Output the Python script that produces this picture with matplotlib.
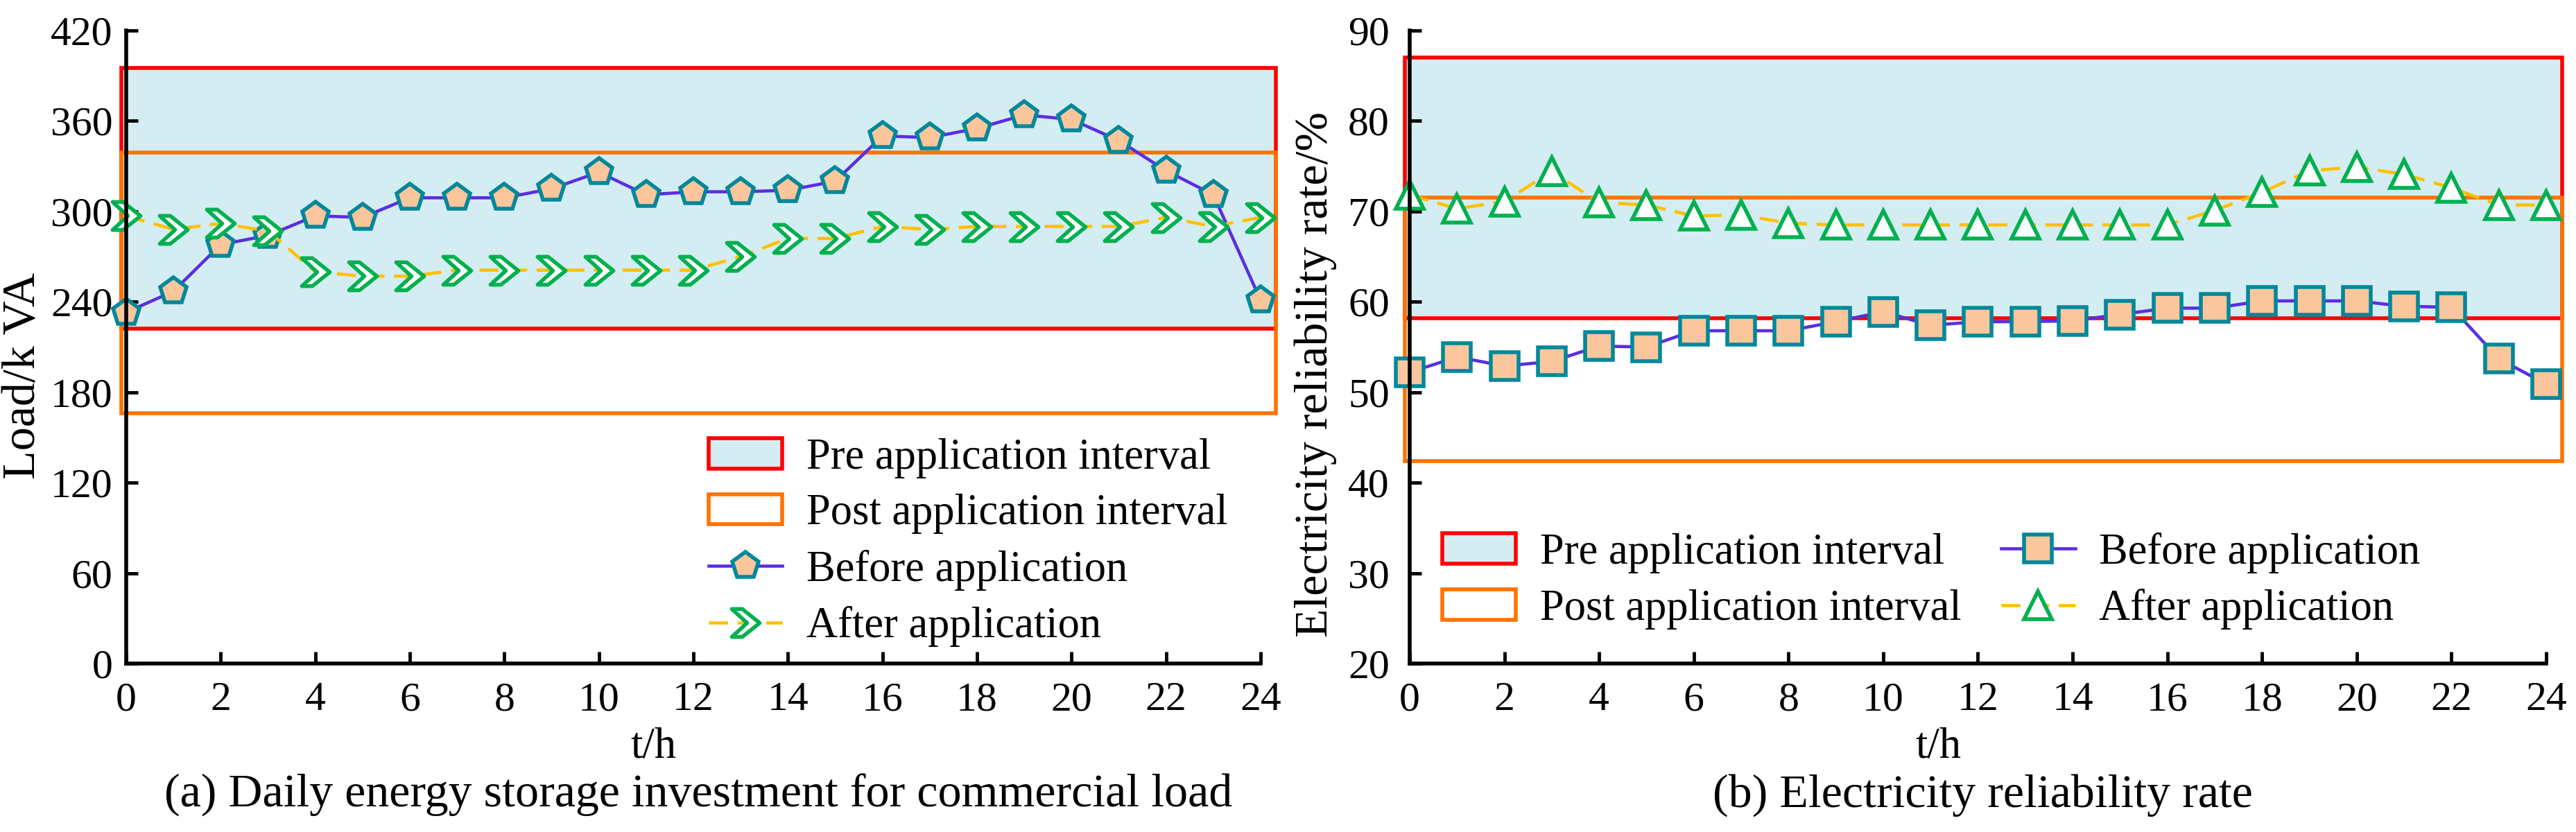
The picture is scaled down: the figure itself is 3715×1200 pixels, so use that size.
import numpy as np
import matplotlib
matplotlib.use("Agg")
import matplotlib.pyplot as plt
from matplotlib.patches import Rectangle, Patch
from matplotlib.lines import Line2D
from matplotlib.path import Path

# data
hours = list(range(25))
load_before = [233, 247, 278, 284, 297, 296, 309, 309, 309, 315, 326, 311, 313,
               313, 314, 320, 350, 349, 355, 364, 361, 347, 327, 311, 241]
load_after = [297, 288, 292, 287, 260, 257, 257, 261, 261, 261, 261, 261, 261,
              270, 282, 282, 290, 288, 290, 290, 290, 290, 296, 290, 296]
load_pre_interval = [222, 395]
load_post_interval = [166, 339]

rel_before = [52.2, 53.9, 52.9, 53.4, 55.1, 55.0, 56.8, 56.8, 56.8, 57.8, 58.9, 57.4, 57.8,
              57.8, 57.9, 58.6, 59.3, 59.3, 60.1, 60.1, 60.1, 59.5, 59.4, 53.7, 50.9]
rel_after = [71.8, 70.3, 71.1, 74.4, 71.0, 70.7, 69.5, 69.6, 68.7, 68.5, 68.5, 68.5, 68.5,
             68.5, 68.5, 68.5, 68.5, 70.1, 72.1, 74.5, 74.9, 74.1, 72.6, 70.7, 70.7]
rel_pre_interval = [58.2, 87.0]
rel_post_interval = [42.4, 71.5]

labels = ["Pre application interval", "Post application interval",
          "Before application", "After application"]

# colours
c_fill = "#D4EDF2"
c_red = "#FF0000"
c_orange = "#FF7300"
c_purple = "#5A2EE0"
c_yellow = "#FFC000"
c_peach = "#FCC69C"
c_teal = "#00889A"
c_green = "#00B050"

plt.rcParams['font.family'] = ['Liberation Serif', 'DejaVu Serif']

# chevron marker
chevron = Path([(-1, 1), (-0.25, 1), (1, 0), (-0.25, -1), (-1, -1), (0.1, 0), (-1, 1)],
               [Path.MOVETO] + [Path.LINETO] * 5 + [Path.CLOSEPOLY])

W, H = 3716, 1200
fig = plt.figure(figsize=(W / 100, H / 100), dpi=100)
ax1 = fig.add_axes([182 / W, 1 - 957 / H, 1636 / W, 913 / H])
ax2 = fig.add_axes([2033 / W, 1 - 957 / H, 1639 / W, 913 / H])


def draw(ax, pre, post, before, after, before_marker, after_marker):
    ax.add_patch(Rectangle((-0.1, pre[0]), 24.43, pre[1] - pre[0], facecolor=c_fill,
                           edgecolor=c_red, lw=4, zorder=1, clip_on=False))
    ax.add_patch(Rectangle((-0.1, post[0]), 24.43, post[1] - post[0], facecolor="none",
                           edgecolor=c_orange, lw=4, zorder=1.5, clip_on=False))
    l1, = ax.plot(hours, before, color=c_purple, lw=3.3, marker=before_marker, ms=29,
                  mfc=c_peach, mec=c_teal, mew=4, zorder=3, clip_on=False)
    l2, = ax.plot(hours, after, color=c_yellow, lw=3.3, ls=(0, (6, 3)), marker=after_marker,
                  ms=29, mfc="white", mec=c_green, mew=4, zorder=4, clip_on=False)
    p1 = Patch(facecolor=c_fill, edgecolor=c_red, lw=4)
    p2 = Patch(facecolor="white", edgecolor=c_orange, lw=4)
    ax.set_xlim(0, 24)
    ax.set_xticks(range(0, 25, 2))
    for s in ["top", "right"]:
        ax.spines[s].set_visible(False)
    for s in ["left", "bottom"]:
        ax.spines[s].set_linewidth(4)
        ax.spines[s].set_zorder(5)
    ax.tick_params(direction="in", length=12, width=3.5, labelsize=43)
    ax.tick_params(axis="x", pad=19)
    ax.set_xlabel("t/h", fontsize=45)
    ax.xaxis.set_label_coords(0.465, -0.10)
    return [p1, p2, l1, l2]


h1 = draw(ax1, load_pre_interval, load_post_interval, load_before, load_after, "p", chevron)
ax1.set_ylim(0, 420)
ax1.set_yticks(range(0, 421, 60))
ax1.tick_params(axis="y", pad=14)
ax1.set_ylabel("Load/k VA", fontsize=49)
ax1.yaxis.set_label_coords(-0.072, 0.455)
ax1.legend(h1, labels, loc="upper left", bbox_to_anchor=(1022 / W, 1 - 632 / H),
           bbox_transform=fig.transFigure, frameon=False, fontsize=45, handlelength=1.7,
           handleheight=0.7, handletextpad=0.55, labelspacing=0.36, borderpad=0,
           borderaxespad=0, numpoints=1)

h2 = draw(ax2, rel_pre_interval, rel_post_interval, rel_before, rel_after, "s", "^")
ax2.set_ylim(20, 90)
ax2.set_yticks(range(20, 91, 10))
ax2.tick_params(axis="y", pad=21)
ax2.set_ylabel("Electricity reliability rate/%", fontsize=49)
ax2.yaxis.set_label_coords(-0.064, 0.457)
ax2.legend(h2, labels, loc="upper left", bbox_to_anchor=(2080 / W, 1 - 768 / H),
           bbox_transform=fig.transFigure, frameon=False, fontsize=45, ncol=2,
           handlelength=1.7, handleheight=0.7, handletextpad=0.55, labelspacing=0.36,
           columnspacing=0.93, borderpad=0, borderaxespad=0, numpoints=1)

fig.text(1007 / W, 1 - 1147 / H, "(a) Daily energy storage investment for commercial load",
         ha="center", va="center", fontsize=49)
fig.text(2859 / W, 1 - 1147 / H, "(b) Electricity reliability rate",
         ha="center", va="center", fontsize=49)

fig.savefig("out.png", dpi=100)
